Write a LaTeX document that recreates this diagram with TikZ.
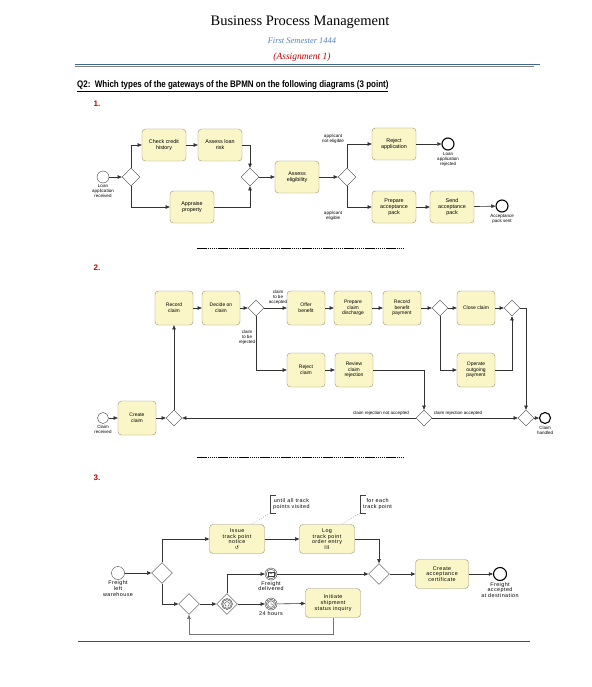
\documentclass[tikz,border=0pt]{standalone}
\usepackage{fontspec}
\setmainfont{Liberation Serif}
\setsansfont{Liberation Sans}
\newfontfamily\widesans[LetterSpace=8]{Liberation Sans}
\newfontfamily\markfont{DejaVu Sans}
\usepackage{graphicx}
\usetikzlibrary{shapes.geometric,arrows.meta,positioning,calc}

\definecolor{boxfill}{RGB}{250,246,200}
\definecolor{boxline}{RGB}{150,148,110}
\definecolor{headblue}{RGB}{79,129,189}
\definecolor{headred}{RGB}{192,0,0}

\tikzset{
  task/.style={draw=boxline, fill=boxfill, rounded corners=3.5pt, align=center, inner sep=0pt,
    minimum width=44pt, minimum height=32pt, font=\sffamily\fontsize{5.4}{6}\selectfont},
  task2/.style={task, minimum width=38pt, minimum height=34pt, font=\sffamily\fontsize{5}{5.6}\selectfont},
  task3/.style={task, minimum width=55pt, minimum height=29pt, font=\widesans\fontsize{5.4}{5.6}\selectfont},
  gate/.style={draw=black!75, fill=white, diamond, minimum size=18pt, inner sep=0pt},
  gate2/.style={gate, minimum size=16pt},
  gate3/.style={gate, minimum size=21pt},
  startev/.style={draw=black!75, circle, fill=white, minimum size=12pt, inner sep=0pt},
  endev/.style={startev, draw=black, line width=1.1pt},
  flow/.style={draw=black!80, line width=0.6pt, -{Triangle[length=4.2pt,width=3.5pt]}},
  lbl/.style={align=center, inner sep=0pt, font=\sffamily\fontsize{4.5}{5}\selectfont},
  lbl3/.style={align=center, inner sep=0pt, font=\widesans\fontsize{5.4}{5.6}\selectfont},
  sepline/.style={line width=0.5pt, dash pattern=on 1.5pt off 0.6pt},
  numlbl/.style={font=\sffamily\bfseries\fontsize{8}{9}\selectfont, text=headred}
}

\begin{document}
\begin{tikzpicture}[x=1pt,y=-1pt]
\fill[white] (0,0) rectangle (591,687);
\useasboundingbox (0,0) rectangle (591,687);

% header
\node[font=\fontsize{14.5}{16}\selectfont] (title) at (300,22) {Business Process Management};
\node[font=\itshape\fontsize{8.5}{10}\selectfont, text=headblue] (term) at (302,41) {First Semester 1444};
\node[font=\itshape\fontsize{9.5}{11}\selectfont, text=headred] (assign) at (302,57) {(Assignment 1)};
\draw[headblue!80!black, line width=0.8pt] (75,64) -- (540,64);
\draw[gray, line width=1.6pt] (75,66.5) -- (534,66.5);
\node[anchor=west, inner sep=0pt, font=\sffamily\bfseries\fontsize{9.5}{11}\selectfont] (question) at (77,86)
  {\scalebox{0.84}[1]{\underline{Q2:\ \ Which types of the gateways of the BPMN on the following diagrams (3 point)}}};

% diagram 1
\node[numlbl] (num1) at (97,104) {1.};
\node[startev] (loanin) at (103,177) {};
\node[lbl, below=1.5pt of loanin] (loaninlbl) {Loan\\application\\received};
\node[gate] (split) at (131,177) {};
\node[task] (credit) at (164,145) {Check credit\\history};
\node[task] (risk) at (220,145) {Assess loan\\risk};
\node[task] (apprais) at (192,207) {Appraise\\property};
\node[gate] (join) at (250,177) {};
\node[task] (elig) at (297,177) {Assess\\eligibility};
\node[gate] (decide) at (347,177) {};
\node[task] (reject) at (394,144) {Reject\\application};
\node[task] (prep) at (394,207) {Prepare\\acceptance\\pack};
\node[task] (send) at (452,207) {Send\\acceptance\\pack};
\node[endev] (rejend) at (448,144) {};
\node[lbl, below=1.5pt of rejend] (rejendlbl) {Loan\\application\\rejected};
\node[endev] (sentend) at (502,206) {};
\node[lbl, below=1.5pt of sentend] (sentendlbl) {Acceptance\\pack sent};
\node[lbl] (notelig) at (333,139) {applicant\\not eligible};
\node[lbl] (iselig) at (333,216) {applicant\\eligible};

\draw[flow] (loanin) -- (split);
\draw[flow] (split.north) |- (credit);
\draw[flow] (split.south) |- (apprais);
\draw[flow] (credit) -- (risk);
\draw[flow] (risk) -| (join.north);
\draw[flow] (apprais) -| (join.south);
\draw[flow] (join) -- (elig);
\draw[flow] (elig) -- (decide);
\draw[flow] (decide.north) |- (reject);
\draw[flow] (decide.south) |- (prep);
\draw[flow] (reject) -- (rejend);
\draw[flow] (prep) -- (send);
\draw[flow] (send) -- (sentend);

\draw[sepline] (197,248) -- (403,248);

% diagram 2
\node[numlbl] (num2) at (97,268) {2.};
\node[startev, minimum size=11pt] (claimin) at (103,418) {};
\node[lbl, below=1.5pt of claimin] (claiminlbl) {Claim\\received};
\node[task2] (create) at (137,418) {Create\\claim};
\node[gate2] (merge) at (174,418) {};
\node[task2] (record) at (174,308) {Record\\claim};
\node[task2] (decideon) at (221,308) {Decide on\\claim};
\node[gate2] (choose) at (256,308) {};
\node[task2] (offer) at (306,308) {Offer\\benefit};
\node[task2] (discharge) at (353,308) {Prepare\\claim\\discharge};
\node[task2] (payrec) at (402,308) {Record\\benefit\\payment};
\node[gate2] (paysplit) at (440,308) {};
\node[task2] (close) at (476,308) {Close claim};
\node[gate2] (payjoin) at (512,308) {};
\node[task2] (rejclaim) at (306,370) {Reject\\claim};
\node[task2] (review) at (354,370) {Review\\claim\\rejection};
\node[task2] (outgo) at (476,370) {Operate\\outgoing\\payment};
\node[gate2] (appeal) at (424,418) {};
\node[gate2] (finish) at (526,418) {};
\node[endev, minimum size=11pt] (handled) at (545,418) {};
\node[lbl, below=1.5pt of handled] (handledlbl) {Claim\\handled};
\node[lbl] (toaccept) at (278,297) {claim\\to be\\accepted};
\node[lbl] (toreject) at (247,337) {claim\\to be\\rejected};
\node[lbl] (notaccepted) at (381,413) {claim rejection not accepted};
\node[lbl] (accepted) at (458,413) {claim rejection accepted};

\draw[flow] (claimin) -- (create);
\draw[flow] (create) -- (merge);
\draw[flow] (merge) -- (record);
\draw[flow] (record) -- (decideon);
\draw[flow] (decideon) -- (choose);
\draw[flow] (choose) -- (offer);
\draw[flow] (choose.south) |- (rejclaim);
\draw[flow] (offer) -- (discharge);
\draw[flow] (discharge) -- (payrec);
\draw[flow] (payrec) -- (paysplit);
\draw[flow] (paysplit) -- (close);
\draw[flow] (close) -- (payjoin);
\draw[flow] (paysplit.south) |- (outgo);
\draw[flow] (outgo) -| (payjoin.south);
\draw[flow] (payjoin) -| (finish.north);
\draw[flow] (rejclaim) -- (review);
\draw[flow] (review) -| (appeal.north);
\draw[flow] (appeal) -- (merge);
\draw[flow] (appeal) -- (finish);
\draw[flow] (finish) -- (handled);

\draw[sepline] (197,457) -- (403,457);

% diagram 3
\node[numlbl] (num3) at (97,478) {3.};
\node[startev, minimum size=13pt] (leftwh) at (118,573) {};
\node[lbl3, below=1pt of leftwh] (leftwhlbl) {Freight\\left\\warehouse};
\node[gate3] (fork) at (162,573) {};
\node[task3] (issue) at (237,539) {Issue\\track point\\notice\\{\markfont\fontsize{5}{5}\selectfont ↺}};
\node[task3] (logentry) at (327,539) {Log\\track point\\order entry\\III};
\node[gate3] (sync) at (379,574) {};
\node[task3, minimum width=53pt] (certify) at (442,574) {Create\\acceptance\\certificate};
\node[endev, minimum size=13pt] (arrived) at (500,574) {};
\node[lbl3, below=1pt of arrived] (arrivedlbl) {Freight\\accepted\\at destination};
\node[gate3] (retry) at (189,604) {};
\node[gate3] (wait) at (227,604) {};
\node[startev, minimum size=12pt] (delivered) at (271,574) {};
\node[lbl3, below=1pt of delivered] (deliveredlbl) {Freight\\delivered};
\node[startev, minimum size=12pt] (hours) at (271,604) {};
\node[lbl3, below=1pt of hours] (hourslbl) {24 hours};
\node[task3] (inquiry) at (333,603) {Initiate\\shipment\\status inquiry};

% event markers
\draw[black!75] (wait.center) circle[radius=5.5pt] (wait.center) circle[radius=4.3pt];
\node[regular polygon, regular polygon sides=5, draw=black!75, minimum size=5pt, inner sep=0pt] (pent) at (wait) {};
\draw[black!75] (delivered.center) circle[radius=4.8pt];
\node[draw=black!75, minimum width=5.5pt, minimum height=3.8pt, inner sep=0pt] (env) at (delivered) {};
\draw[black!75, line width=0.3pt] (env.north west) -- (env.center) -- (env.north east);
\draw[black!75] (hours.center) circle[radius=4.8pt] (hours.center) circle[radius=3.3pt];
\draw[black!75, line width=0.35pt] (hours.center) -- ++(0,-2.6) (hours.center) -- ++(1.9,0.6);

% annotations
\node[lbl3, anchor=west] (untilnote) at (273,504) {until all track\\points visited};
\draw[black!75, line width=0.4pt] (276,495) -- (270,495) -- (270,513) -- (276,513);
\coordinate (untilfoot) at (270,513);
\draw[black!60, dotted, line width=0.5pt] (untilfoot) -- ($(issue.north east)+(-13,0)$);
\node[lbl3, anchor=west] (eachnote) at (363,504) {for each\\track point};
\draw[black!75, line width=0.4pt] (366,495) -- (360,495) -- (360,513) -- (366,513);
\coordinate (eachfoot) at (360,513);
\draw[black!60, dotted, line width=0.5pt] (eachfoot) -- ($(logentry.north east)+(-13,0)$);

\draw[flow] (leftwh) -- (fork);
\draw[flow] (fork.north) |- (issue);
\draw[flow] (fork.south) |- (retry);
\draw[flow] (issue) -- (logentry);
\draw[flow] (logentry) -| (sync.north);
\draw[flow] (retry) -- (wait);
\draw[flow] (wait.north) |- (delivered);
\draw[flow] (wait) -- (hours);
\draw[flow] (delivered) -- (sync);
\draw[flow] (hours) -- (inquiry);
\draw[flow, draw=black!55] (inquiry.south) -- ++(0,17) -| (retry.south);
\draw[flow] (sync) -- (certify);
\draw[flow] (certify) -- (arrived);

\draw[black!70, line width=0.8pt] (78,641) -- (530,641);
\end{tikzpicture}
\end{document}
